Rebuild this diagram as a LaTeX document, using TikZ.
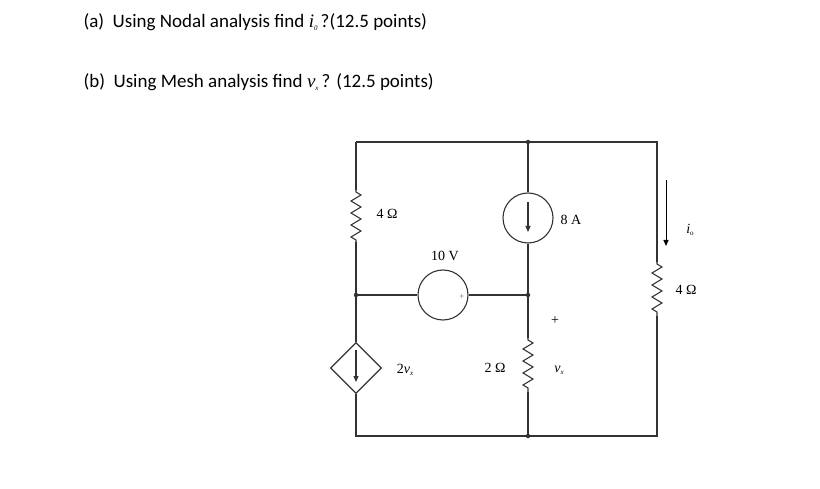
\documentclass[tikz,border=0pt]{standalone}
\usepackage{fontspec}
\setmainfont{Liberation Serif}
\newfontfamily\hdrfont{Carlito}
\newfontfamily\serfont{Liberation Serif}
\newcommand{\sub}[1]{\raisebox{-0.35ex}{\scriptsize #1}}
\usetikzlibrary{shapes.geometric,decorations.pathmorphing,arrows.meta}
\begin{document}
\begin{tikzpicture}[x=1pt,y=-1pt,
  wire/.style={line width=1.1pt,draw=black!80},
  res/.style={wire,decorate,decoration={zigzag,segment length=12pt,amplitude=5pt,pre length=2pt,post length=2pt}},
  dot/.style={circle,fill=black!80,inner sep=0pt,minimum size=4.5pt},
  src/.style={circle,wire,minimum size=50pt,inner sep=0pt},
  lab/.style={font=\fontsize{14}{15}\selectfont},
  hdr/.style={font=\hdrfont\fontsize{19}{22}\selectfont,anchor=west}]
\useasboundingbox (0,0) rectangle (820,489);
\node[hdr] (ha) at (80,22) {(a)\ \ Using Nodal analysis find {\serfont\itshape i\sub{0}}\,?(12.5 points)};
\node[hdr] (hb) at (80,82) {(b)\ \ Using Mesh analysis find {\serfont\itshape v\sub{x}}\,? (12.5 points)};
% nodes
\coordinate (tl) at (356,142); \coordinate (tm) at (528,142); \coordinate (tr) at (657,142);
\coordinate (ml) at (356,295); \coordinate (mm) at (528,295);
\coordinate (bl) at (356,436); \coordinate (bm) at (528,436); \coordinate (br) at (657,436);
\coordinate (r1a) at (356,190); \coordinate (r1b) at (356,242);
\coordinate (r2a) at (528,338); \coordinate (r2b) at (528,392);
\coordinate (r3a) at (657,262); \coordinate (r3b) at (657,316);
\node[src] (cs) at (528,218) {};
\node[src] (vs) at (443,295) {};
\node[diamond,wire,minimum size=51pt,inner sep=0pt] (ds) at (356,368) {};
\draw[wire] (tl) -- (tm) -- (tr) -- (r3a);
\draw[res] (r3a) -- (r3b);
\draw[wire] (r3b) -- (br) -- (bm) -- (bl) -- (ds.south);
\draw[wire] (ds.north) -- (ml) -- (r1b);
\draw[res] (r1b) -- (r1a);
\draw[wire] (r1a) -- (tl);
\draw[wire] (ml) -- (vs.west); \draw[wire] (vs.east) -- (mm);
\draw[wire] (tm) -- (cs.north); \draw[wire] (cs.south) -- (mm) -- (r2a);
\draw[res] (r2a) -- (r2b);
\draw[wire] (r2b) -- (bm);
\draw[wire,-{Triangle[length=6pt,width=5pt]}] ([yshift=16pt]cs.center) -- ([yshift=-14pt]cs.center);
\draw[wire,-{Triangle[length=6pt,width=5pt]}] ([yshift=18pt]ds.center) -- ([yshift=-14pt]ds.center);
\draw[line width=0.9pt,-{Triangle[length=6pt,width=5pt]}] (666,180) coordinate (ia) -- (666,246) coordinate (ib);
\foreach \p in {tm,ml,mm,bm} \node[dot] at (\p) {};
\node[font=\fontsize{9}{9}\selectfont,text=black!60] (vp) at (462,297) {+};
% labels
\node[lab] (l4a) at (387,214) {4 Ω};
\node[lab] (l8) at (571,220) {8 A};
\node[lab] (l10) at (445,256) {10 V};
\node[lab] (l2v) at (405,370) {2\textit{v}\sub{\textit{x}}};
\node[lab] (l2o) at (495,368) {2 Ω};
\node[lab] (lvx) at (559,370) {\textit{v}\sub{\textit{x}}};
\node[lab] (lp) at (555,321) {+};
\node[lab] (lio) at (690,230) {\textit{i}\sub{o}};
\node[lab] (l4b) at (686,290) {4 Ω};
\end{tikzpicture}
\end{document}
